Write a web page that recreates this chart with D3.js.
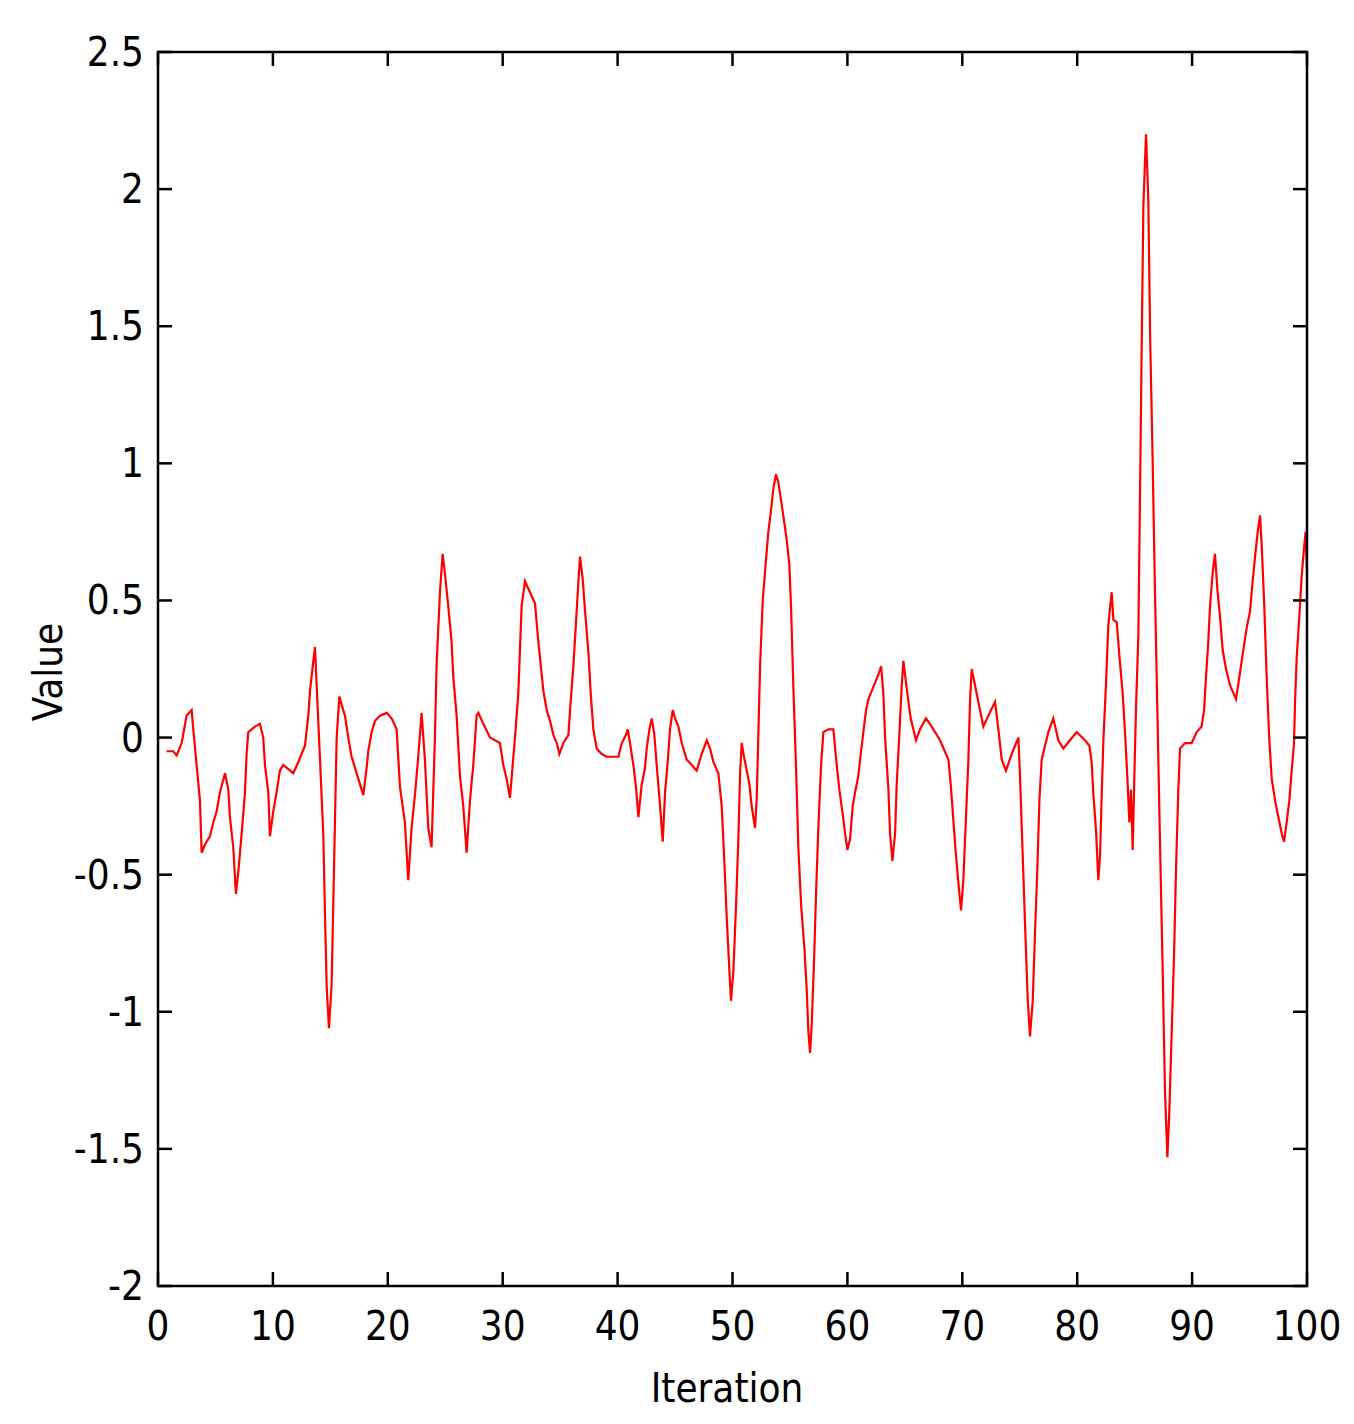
<!DOCTYPE html>
<html>
<head>
<meta charset="utf-8">
<script src="https://cdn.jsdelivr.net/npm/d3@7"></script>
<style>
  body { margin: 0; background: #fff; }
  text { font-family: "DejaVu Sans Condensed", "DejaVu Sans", sans-serif; font-stretch: condensed; }
</style>
</head>
<body>
<svg id="chart" width="1354" height="1424"></svg>
<script>
// iteration positions and values
var iteration = [0.75,1.33,1.62,2.06,2.49,2.93,3.07,3.36,3.65,3.8,4.09,4.52,4.81,5.1,5.39,5.83,6.12,6.26,6.55,6.78,6.99,7.28,7.57,7.71,7.86,8.44,8.87,9.16,9.31,9.6,9.74,10.03,10.32,10.61,10.9,11.77,12.21,12.79,13.08,13.23,13.52,13.66,13.81,14.1,14.39,14.53,14.68,14.88,15.11,15.26,15.4,15.55,15.78,15.98,16.27,16.56,16.85,17.14,17.43,17.87,18.16,18.3,18.59,18.88,19.32,19.9,20.33,20.77,21.06,21.49,21.78,22.07,22.36,22.65,22.94,23.23,23.52,23.81,24.1,24.25,24.54,24.77,24.97,25.26,25.55,25.7,25.99,26.28,26.57,26.86,27.15,27.44,27.73,27.88,28.31,28.89,29.76,30.05,30.34,30.63,31.07,31.36,31.5,31.65,31.94,32.37,32.81,33.1,
  33.54,33.83,34.12,34.41,34.7,34.93,35.28,35.72,35.86,36.15,36.38,36.59,36.73,36.96,37.17,37.46,37.66,37.89,38.18,38.62,39.05,40.07,40.36,40.73,40.88,41.08,41.37,41.6,41.81,42.1,42.39,42.53,42.77,42.97,43.2,43.4,43.64,43.93,44.13,44.36,44.56,44.8,45.0,45.29,45.58,46.01,46.45,46.88,47.32,47.76,48.05,48.34,48.77,49.06,49.29,49.5,49.73,49.87,50.08,50.31,50.51,50.66,50.8,51.0,51.24,51.47,51.67,51.96,52.11,52.25,52.4,52.63,52.92,53.12,53.33,53.56,53.79,53.99,54.28,54.52,54.72,54.95,55.1,55.3,55.53,55.73,55.97,56.26,56.46,56.6,56.75,56.89,57.1,57.27,57.47,57.71,57.91,58.34,58.78,59.07,59.3,59.59,59.8,60.0,60.23,60.46,60.67,60.95,61.16,61.39,61.62,61.83,62.12,62.41,62.7,62.93,63.13,63.28,63.57,63.71,63.92,64.15,64.29,64.52,64.73,64.87,65.1,65.31,65.51,65.74,65.97,66.32,66.84,67.34,
  68.06,68.79,68.99,69.22,69.45,69.66,69.89,70.09,70.32,70.53,70.67,70.82,71.11,71.4,71.83,72.27,72.85,73.14,73.43,73.8,74.3,74.88,75.02,75.25,75.46,75.69,75.89,76.13,76.33,76.53,76.71,76.91,77.2,77.49,77.92,78.36,78.79,79.37,79.95,80.68,81.06,81.26,81.41,81.64,81.84,81.99,82.13,82.28,82.51,82.71,83.0,83.15,83.44,83.67,83.96,84.16,84.37,84.54,84.68,84.83,84.97,85.12,85.32,85.47,85.61,85.76,85.99,86.19,86.34,86.57,86.77,87.0,87.21,87.44,87.64,87.85,88.02,88.22,88.43,88.6,88.8,88.95,89.38,89.96,90.4,90.83,91.04,91.21,91.41,91.56,91.79,91.99,92.2,92.43,92.66,92.95,93.3,93.82,94.11,94.46,94.75,95.04,95.27,95.48,95.71,95.91,96.06,96.29,96.49,96.72,96.93,97.22,97.51,97.8,98.0,98.23,98.46,98.67,98.87,98.96,99.1,99.33,99.54,99.74,99.88,100];
var value = [-0.05,-0.05,-0.065,-0.02,0.08,0.1,0.03,-0.1,-0.23,-0.42,-0.39,-0.36,-0.31,-0.27,-0.2,-0.13,-0.19,-0.29,-0.4,-0.57,-0.49,-0.35,-0.2,-0.06,0.02,0.04,0.05,0.0,-0.1,-0.2,-0.36,-0.27,-0.2,-0.12,-0.1,-0.13,-0.09,-0.03,0.08,0.17,0.28,0.33,0.19,-0.08,-0.36,-0.64,-0.91,-1.06,-0.9,-0.6,-0.31,0.0,0.15,0.12,0.08,0.0,-0.07,-0.11,-0.15,-0.21,-0.11,-0.05,0.02,0.06,0.08,0.09,0.07,0.03,-0.18,-0.31,-0.52,-0.33,-0.21,-0.07,0.09,-0.08,-0.33,-0.4,0.0,0.27,0.53,0.67,0.6,0.48,0.35,0.22,0.08,-0.14,-0.25,-0.42,-0.23,-0.1,0.08,0.09,0.05,0.0,-0.02,-0.1,-0.15,-0.22,0.0,0.16,0.32,0.48,0.57,0.53,0.49,0.35,
  0.17,0.1,0.06,0.01,-0.02,-0.06,-0.02,0.01,0.1,0.26,0.42,0.57,0.66,0.58,0.46,0.31,0.16,0.03,-0.04,-0.06,-0.07,-0.07,-0.02,0.01,0.03,-0.02,-0.1,-0.18,-0.29,-0.17,-0.11,-0.04,0.03,0.07,0.01,-0.1,-0.22,-0.38,-0.2,-0.09,0.03,0.1,0.07,0.04,-0.02,-0.08,-0.1,-0.12,-0.06,-0.01,-0.04,-0.09,-0.13,-0.25,-0.45,-0.66,-0.85,-0.96,-0.85,-0.61,-0.37,-0.13,-0.02,-0.07,-0.12,-0.17,-0.25,-0.33,-0.22,0.01,0.26,0.5,0.65,0.75,0.82,0.91,0.96,0.93,0.85,0.78,0.72,0.63,0.47,0.18,-0.11,-0.4,-0.61,-0.77,-0.92,-1.07,-1.15,-1.05,-0.81,-0.57,-0.33,-0.1,0.02,0.03,0.03,-0.1,-0.19,-0.28,-0.35,-0.41,-0.37,-0.25,-0.2,-0.14,-0.06,0.02,0.1,0.14,0.17,0.2,0.23,0.26,0.16,0.0,-0.19,-0.35,-0.45,-0.35,-0.17,0.01,0.19,0.28,0.2,0.13,0.07,0.03,-0.01,0.03,0.07,0.04,
  -0.01,-0.08,-0.17,-0.3,-0.43,-0.53,-0.63,-0.52,-0.29,-0.08,0.13,0.25,0.19,0.13,0.04,0.08,0.13,0.03,-0.08,-0.12,-0.06,0.0,-0.14,-0.42,-0.68,-0.95,-1.09,-0.96,-0.71,-0.48,-0.23,-0.08,-0.03,0.02,0.07,-0.01,-0.04,-0.01,0.02,-0.01,-0.03,-0.09,-0.21,-0.34,-0.52,-0.43,-0.21,-0.01,0.2,0.41,0.53,0.43,0.42,0.3,0.16,0.02,-0.15,-0.31,-0.19,-0.41,-0.15,0.11,0.37,0.9,1.42,1.94,2.2,1.96,1.48,1.0,0.53,0.05,-0.39,-0.85,-1.29,-1.53,-1.36,-1.08,-0.79,-0.48,-0.19,-0.04,-0.02,-0.02,0.02,0.04,0.1,0.22,0.35,0.48,0.6,0.67,0.54,0.44,0.32,0.25,0.19,0.14,0.22,0.32,0.4,0.46,0.57,0.66,0.75,0.81,0.7,0.47,0.22,-0.01,-0.15,-0.23,-0.29,-0.35,-0.38,-0.31,-0.23,-0.12,-0.02,0.13,0.29,0.44,0.59,0.69,0.75,0.6];
var xTicks = [0,10,20,30,40,50,60,70,80,90,100];
var yTicks = [-2,-1.5,-1,-0.5,0,0.5,1,1.5,2,2.5];

var plotL = 158, plotR = 1307, plotT = 52, plotB = 1286;
var svg = d3.select('#chart');
var x = d3.scaleLinear().domain([0, 100]).range([plotL, plotR]);
var y = d3.scaleLinear().domain([-2, 2.5]).range([plotB, plotT]);

var pts = iteration.map(function(d, i) { return [d, value[i]]; });
svg.append('path')
  .datum(pts)
  .attr('d', d3.line().x(function(d) { return x(d[0]); }).y(function(d) { return y(d[1]); }))
  .attr('fill', 'none')
  .attr('stroke', '#ff0000')
  .attr('stroke-width', 2.2);

// box
svg.append('rect')
  .attr('x', plotL).attr('y', plotT)
  .attr('width', plotR - plotL).attr('height', plotB - plotT)
  .attr('fill', 'none').attr('stroke', '#000').attr('stroke-width', 2.5);

var tk = 14;
var g = svg.append('g').attr('stroke', '#000').attr('stroke-width', 2.5);
xTicks.forEach(function(t) {
  g.append('line').attr('x1', x(t)).attr('x2', x(t)).attr('y1', plotB).attr('y2', plotB - tk);
  g.append('line').attr('x1', x(t)).attr('x2', x(t)).attr('y1', plotT).attr('y2', plotT + tk);
});
yTicks.forEach(function(t) {
  g.append('line').attr('x1', plotL).attr('x2', plotL + tk).attr('y1', y(t)).attr('y2', y(t));
  g.append('line').attr('x1', plotR).attr('x2', plotR - tk).attr('y1', y(t)).attr('y2', y(t));
});

svg.selectAll('.xl').data(xTicks).enter().append('text')
  .attr('x', function(d) { return x(d); })
  .attr('y', 1340)
  .attr('text-anchor', 'middle')
  .attr('font-size', 40)
  .text(function(d) { return d; });

svg.selectAll('.yl').data(yTicks).enter().append('text')
  .attr('x', 144)
  .attr('y', function(d) { return y(d) + 14; })
  .attr('text-anchor', 'end')
  .attr('font-size', 40)
  .text(function(d) { return d; });

svg.append('text')
  .attr('x', 727).attr('y', 1402)
  .attr('text-anchor', 'middle').attr('font-size', 40)
  .text('Iteration');

svg.append('text')
  .attr('transform', 'translate(62,672) rotate(-90)')
  .attr('text-anchor', 'middle').attr('font-size', 40)
  .text('Value');
</script>
</body>
</html>
